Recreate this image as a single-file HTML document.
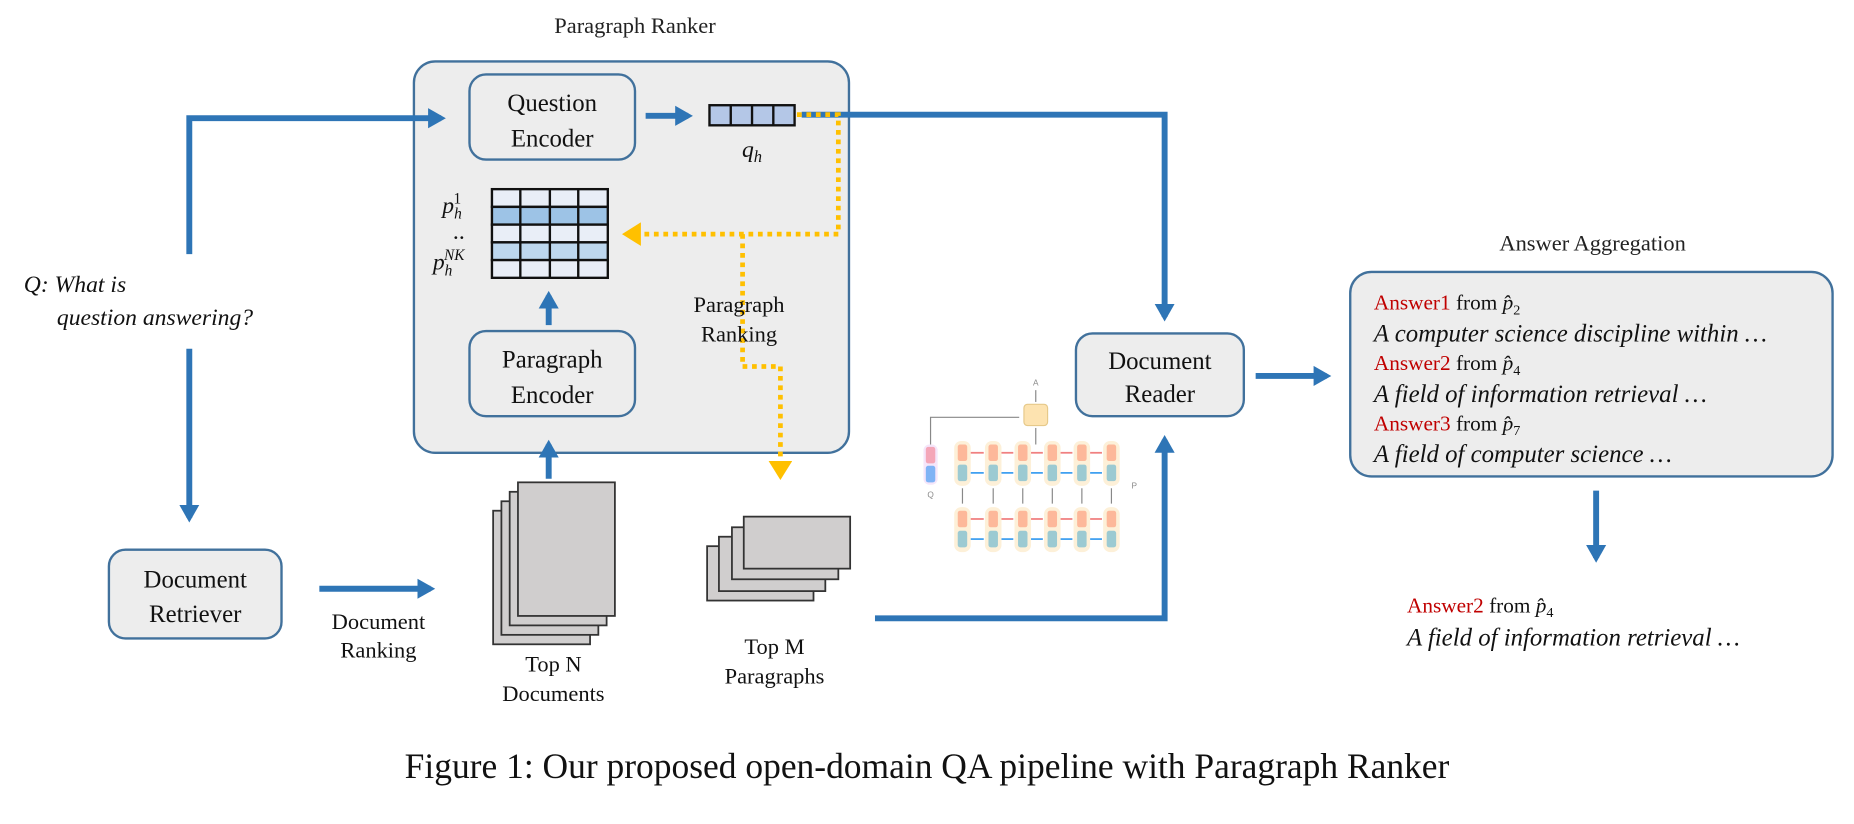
<!DOCTYPE html>
<html><head><meta charset="utf-8"><style>html,body{margin:0;padding:0;background:#fff}svg{display:block}</style></head>
<body>
<svg width="1854" height="824" viewBox="0 0 1568 697" xmlns="http://www.w3.org/2000/svg" font-family="Liberation Serif, serif">
<defs>
<marker id="ab" markerWidth="4" markerHeight="4" refX="2.2" refY="2" orient="auto" markerUnits="strokeWidth"><path d="M0,0.3 L3,2 L0,3.7 z" fill="#2e75b6"/></marker>
<marker id="ay" markerWidth="5" markerHeight="5" refX="2.5" refY="2.5" orient="auto" markerUnits="strokeWidth"><path d="M0,0 L4,2.5 L0,5 z" fill="#ffc000"/></marker>
</defs>
<g fill="#222" font-size="19" text-anchor="middle">
<text x="537" y="28">Paragraph Ranker</text>
<text x="1347" y="212">Answer Aggregation</text>
</g>
<rect x="350" y="52" width="368" height="331" rx="18" fill="#ededed" stroke="#41719c" stroke-width="2"/>
<rect x="397" y="63" width="140" height="72" rx="14" fill="#ededed" stroke="#41719c" stroke-width="2"/>
<rect x="397" y="280" width="140" height="72" rx="14" fill="#ededed" stroke="#41719c" stroke-width="2"/>
<g fill="#111" font-size="21" text-anchor="middle">
<text x="467" y="94">Question</text><text x="467" y="124">Encoder</text>
<text x="467" y="311">Paragraph</text><text x="467" y="341">Encoder</text>
</g>
<g stroke="#111" stroke-width="2" fill="#b4c7e7">
<rect x="600" y="89" width="72" height="17"/>
<line x1="618" y1="89" x2="618" y2="106"/><line x1="636" y1="89" x2="636" y2="106"/><line x1="654" y1="89" x2="654" y2="106"/>
</g>
<text x="636" y="133" font-size="20" font-style="italic" text-anchor="middle" fill="#111">q<tspan font-size="14" dy="4">h</tspan></text>
<g stroke="#111" stroke-width="2">
<rect x="416" y="160" width="98" height="15" fill="#e9eef7"/>
<rect x="416" y="175" width="98" height="15" fill="#9dc3e6"/>
<rect x="416" y="190" width="98" height="15" fill="#e9eef7"/>
<rect x="416" y="205" width="98" height="15" fill="#bdd7ee"/>
<rect x="416" y="220" width="98" height="15" fill="#e9eef7"/>
<line x1="440" y1="160" x2="440" y2="235"/><line x1="465" y1="160" x2="465" y2="235"/><line x1="489" y1="160" x2="489" y2="235"/>
</g>
<g fill="#111" font-style="italic" font-size="20">
<text x="374" y="180">p<tspan font-size="13" dy="5">h</tspan><tspan font-size="13" dy="-13" dx="-7" font-style="normal">1</tspan></text>
<text x="383" y="202" font-style="normal">..</text>
<text x="366" y="228">p<tspan font-size="13" dy="5">h</tspan><tspan font-size="13" dy="-13" dx="-7">NK</tspan></text>
</g>
<g stroke="#2e75b6" stroke-width="5" fill="none">
<line x1="546" y1="98" x2="582" y2="98" marker-end="url(#ab)"/>
<line x1="464" y1="275" x2="464" y2="250" marker-end="url(#ab)"/>
<line x1="464" y1="405" x2="464" y2="376" marker-end="url(#ab)"/>
<polyline points="160,215 160,100 373,100" marker-end="url(#ab)"/>
<line x1="160" y1="295" x2="160" y2="438" marker-end="url(#ab)"/>
<line x1="270" y1="498" x2="364" y2="498" marker-end="url(#ab)"/>
<polyline points="678,97 985,97 985,268" marker-end="url(#ab)"/>
<polyline points="740,523 985,523 985,372" marker-end="url(#ab)"/>
<line x1="1062" y1="318" x2="1122" y2="318" marker-end="url(#ab)"/>
<line x1="1350" y1="415" x2="1350" y2="472" marker-end="url(#ab)"/>
</g>
<g stroke="#ffc000" stroke-width="4" fill="none" stroke-dasharray="4,4">
<polyline points="674,97 709,97 709,198 532,198" marker-end="url(#ay)"/>
<polyline points="628,198 628,310 660,310 660,400" marker-end="url(#ay)"/>
</g>
<g fill="#111" font-size="19" text-anchor="middle">
<text x="625" y="264">Paragraph</text><text x="625" y="289">Ranking</text>
<text x="320" y="532">Document</text><text x="320" y="556">Ranking</text>
<text x="468" y="568">Top N</text><text x="468" y="593">Documents</text>
<text x="655" y="553">Top M</text><text x="655" y="578">Paragraphs</text>
</g>
<g fill="#111" font-style="italic" font-size="20">
<text x="20" y="247">Q:  What is</text>
<text x="48" y="275">question answering?</text>
</g>
<rect x="92" y="465" width="146" height="75" rx="14" fill="#ededed" stroke="#41719c" stroke-width="2"/>
<g fill="#111" font-size="21" text-anchor="middle"><text x="165" y="497">Document</text><text x="165" y="526">Retriever</text></g>
<g fill="#d0cece" stroke="#333" stroke-width="1.5">
<rect x="417" y="432" width="82" height="113"/>
<rect x="424" y="424" width="82" height="113"/>
<rect x="431" y="416" width="82" height="113"/>
<rect x="438" y="408" width="82" height="113"/>
</g>
<g fill="#d0cece" stroke="#333" stroke-width="1.5">
<rect x="598" y="462" width="90" height="46"/>
<rect x="608" y="454" width="90" height="46"/>
<rect x="619" y="446" width="90" height="44"/>
<rect x="629" y="437" width="90" height="44"/>
</g>
<g>
<polyline points="787,377 787,353 862,353" stroke="#888" fill="none" stroke-width="1"/>
<rect x="866" y="342" width="20" height="18" rx="3" fill="#fde3b0" stroke="#e6c98a"/>
<line x1="876" y1="340" x2="876" y2="330" stroke="#888"/>
<text x="876" y="326" font-size="7" fill="#888" font-family="Liberation Sans" text-anchor="middle">A</text>
<line x1="876" y1="376" x2="876" y2="362" stroke="#888"/>
<rect x="781" y="376" width="12" height="34" rx="5" fill="#f5e6fa"/>
<rect x="783" y="378" width="8" height="14" rx="2" fill="#f4a6b8"/>
<rect x="783" y="394" width="8" height="14" rx="2" fill="#7fb3f5"/>
<text x="787" y="421" font-size="7" fill="#888" font-family="Liberation Sans" text-anchor="middle">Q</text>
<text x="957" y="413" font-size="7" fill="#888" font-family="Liberation Sans">P</text>
<g id="row">
<rect x="807" y="373" width="14" height="38" rx="6" fill="#fdf0d8"/><rect x="810" y="376" width="8" height="14" rx="2" fill="#fdb89a"/><rect x="810" y="393" width="8" height="14" rx="2" fill="#9ccad2"/>
<rect x="833" y="373" width="14" height="38" rx="6" fill="#fdf0d8"/><rect x="836" y="376" width="8" height="14" rx="2" fill="#fdb89a"/><rect x="836" y="393" width="8" height="14" rx="2" fill="#9ccad2"/>
<rect x="858" y="373" width="14" height="38" rx="6" fill="#fdf0d8"/><rect x="861" y="376" width="8" height="14" rx="2" fill="#fdb89a"/><rect x="861" y="393" width="8" height="14" rx="2" fill="#9ccad2"/>
<rect x="883" y="373" width="14" height="38" rx="6" fill="#fdf0d8"/><rect x="886" y="376" width="8" height="14" rx="2" fill="#fdb89a"/><rect x="886" y="393" width="8" height="14" rx="2" fill="#9ccad2"/>
<rect x="908" y="373" width="14" height="38" rx="6" fill="#fdf0d8"/><rect x="911" y="376" width="8" height="14" rx="2" fill="#fdb89a"/><rect x="911" y="393" width="8" height="14" rx="2" fill="#9ccad2"/>
<rect x="933" y="373" width="14" height="38" rx="6" fill="#fdf0d8"/><rect x="936" y="376" width="8" height="14" rx="2" fill="#fdb89a"/><rect x="936" y="393" width="8" height="14" rx="2" fill="#9ccad2"/>
<g stroke="#f08080" stroke-width="1.5"><line x1="821" y1="383" x2="832" y2="383"/><line x1="847" y1="383" x2="857" y2="383"/><line x1="872" y1="383" x2="882" y2="383"/><line x1="897" y1="383" x2="907" y2="383"/><line x1="922" y1="383" x2="932" y2="383"/></g>
<g stroke="#40a0f0" stroke-width="1.5"><line x1="821" y1="400" x2="832" y2="400"/><line x1="847" y1="400" x2="857" y2="400"/><line x1="872" y1="400" x2="882" y2="400"/><line x1="897" y1="400" x2="907" y2="400"/><line x1="922" y1="400" x2="932" y2="400"/></g>
</g>
<use href="#row" y="56"/>
<g stroke="#888" stroke-width="1"><line x1="814" y1="413" x2="814" y2="426"/><line x1="840" y1="413" x2="840" y2="426"/><line x1="865" y1="413" x2="865" y2="426"/><line x1="890" y1="413" x2="890" y2="426"/><line x1="915" y1="413" x2="915" y2="426"/><line x1="940" y1="413" x2="940" y2="426"/></g>
</g>
<rect x="910" y="282" width="142" height="70" rx="14" fill="#ededed" stroke="#41719c" stroke-width="2"/>
<g fill="#111" font-size="21" text-anchor="middle"><text x="981" y="312">Document</text><text x="981" y="340">Reader</text></g>
<rect x="1142" y="230" width="408" height="173" rx="18" fill="#ededed" stroke="#41719c" stroke-width="2"/>
<g font-size="18" fill="#111">
<text x="1162" y="262"><tspan fill="#c00000">Answer1</tspan> from <tspan font-style="italic">p̂</tspan><tspan font-size="12" dy="4">2</tspan></text>
<text x="1162" y="313"><tspan fill="#c00000">Answer2</tspan> from <tspan font-style="italic">p̂</tspan><tspan font-size="12" dy="4">4</tspan></text>
<text x="1162" y="364"><tspan fill="#c00000">Answer3</tspan> from <tspan font-style="italic">p̂</tspan><tspan font-size="12" dy="4">7</tspan></text>
<text x="1190" y="518"><tspan fill="#c00000">Answer2</tspan> from <tspan font-style="italic">p̂</tspan><tspan font-size="12" dy="4">4</tspan></text>
</g>
<g font-size="21" font-style="italic" fill="#111">
<text x="1162" y="289">A computer science discipline within …</text>
<text x="1162" y="340">A field of information retrieval …</text>
<text x="1162" y="391">A field of computer science …</text>
<text x="1190" y="546">A field of information retrieval …</text>
</g>
<text x="784" y="658" font-size="30" text-anchor="middle" fill="#111">Figure 1: Our proposed open-domain QA pipeline with Paragraph Ranker</text>
</svg>
</body></html>
